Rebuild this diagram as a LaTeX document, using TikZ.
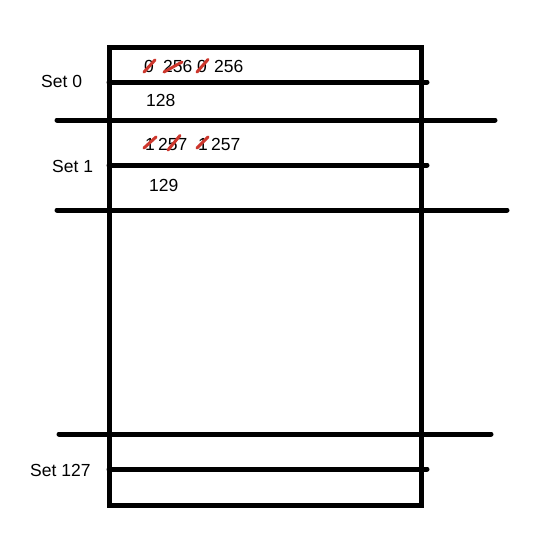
\documentclass[tikz,border=0pt]{standalone}
\usepackage{fontspec}
\setmainfont{Liberation Sans}
\definecolor{strike}{RGB}{205,55,45}
\begin{document}
\begin{tikzpicture}[x=1pt,y=-1pt,
  frame/.style={line width=5pt},
  rule/.style={line width=5pt,line cap=round},
  lbl/.style={anchor=base west,inner sep=0pt,font=\fontsize{17.5}{20}\selectfont},
  cross/.style={draw=strike,line width=3pt,line cap=round}]
\useasboundingbox[fill=white] (0,0) rectangle (534,558);
% outer box
\draw[frame] (109,47) rectangle (421,505);
% horizontal rules
\draw[rule] (109,82) -- (427,82);
\draw[rule] (57,120) -- (495,120);
\draw[rule] (109,165) -- (427,165);
\draw[rule] (57,210) -- (507,210);
\draw[rule] (59,434) -- (491,434);
\draw[rule] (109,469) -- (427,469);
% set labels
\node[lbl] (set0) at (41,87) {Set 0};
\node[lbl] (set1) at (52,172) {Set 1};
\node[lbl] (set127) at (30,476) {Set 127};
% set 0 contents
\node[lbl] (a1) at (144,72.5) {0};
\node[lbl] (a2) at (163,72.5) {256};
\node[lbl] (a3) at (197,72.5) {0};
\node[lbl] (a4) at (214,72.5) {256};
\node[lbl] (a5) at (146,106) {128};
% set 1 contents
\node[lbl] (b1) at (145,150) {1};
\node[lbl] (b2) at (158,150) {257};
\node[lbl] (b3) at (198,150) {1};
\node[lbl] (b4) at (211,150) {257};
\node[lbl] (b5) at (149,191) {129};
% strike marks
\draw[cross] (144,72) -- (155,60);
\draw[cross] (164,72) -- (182,62);
\draw[cross] (197,72) -- (208,59.5);
\draw[cross] (144,148) -- (156,137);
\draw[cross] (168,150) -- (180,135.5);
\draw[cross] (197,148) -- (208,137);
\end{tikzpicture}
\end{document}
